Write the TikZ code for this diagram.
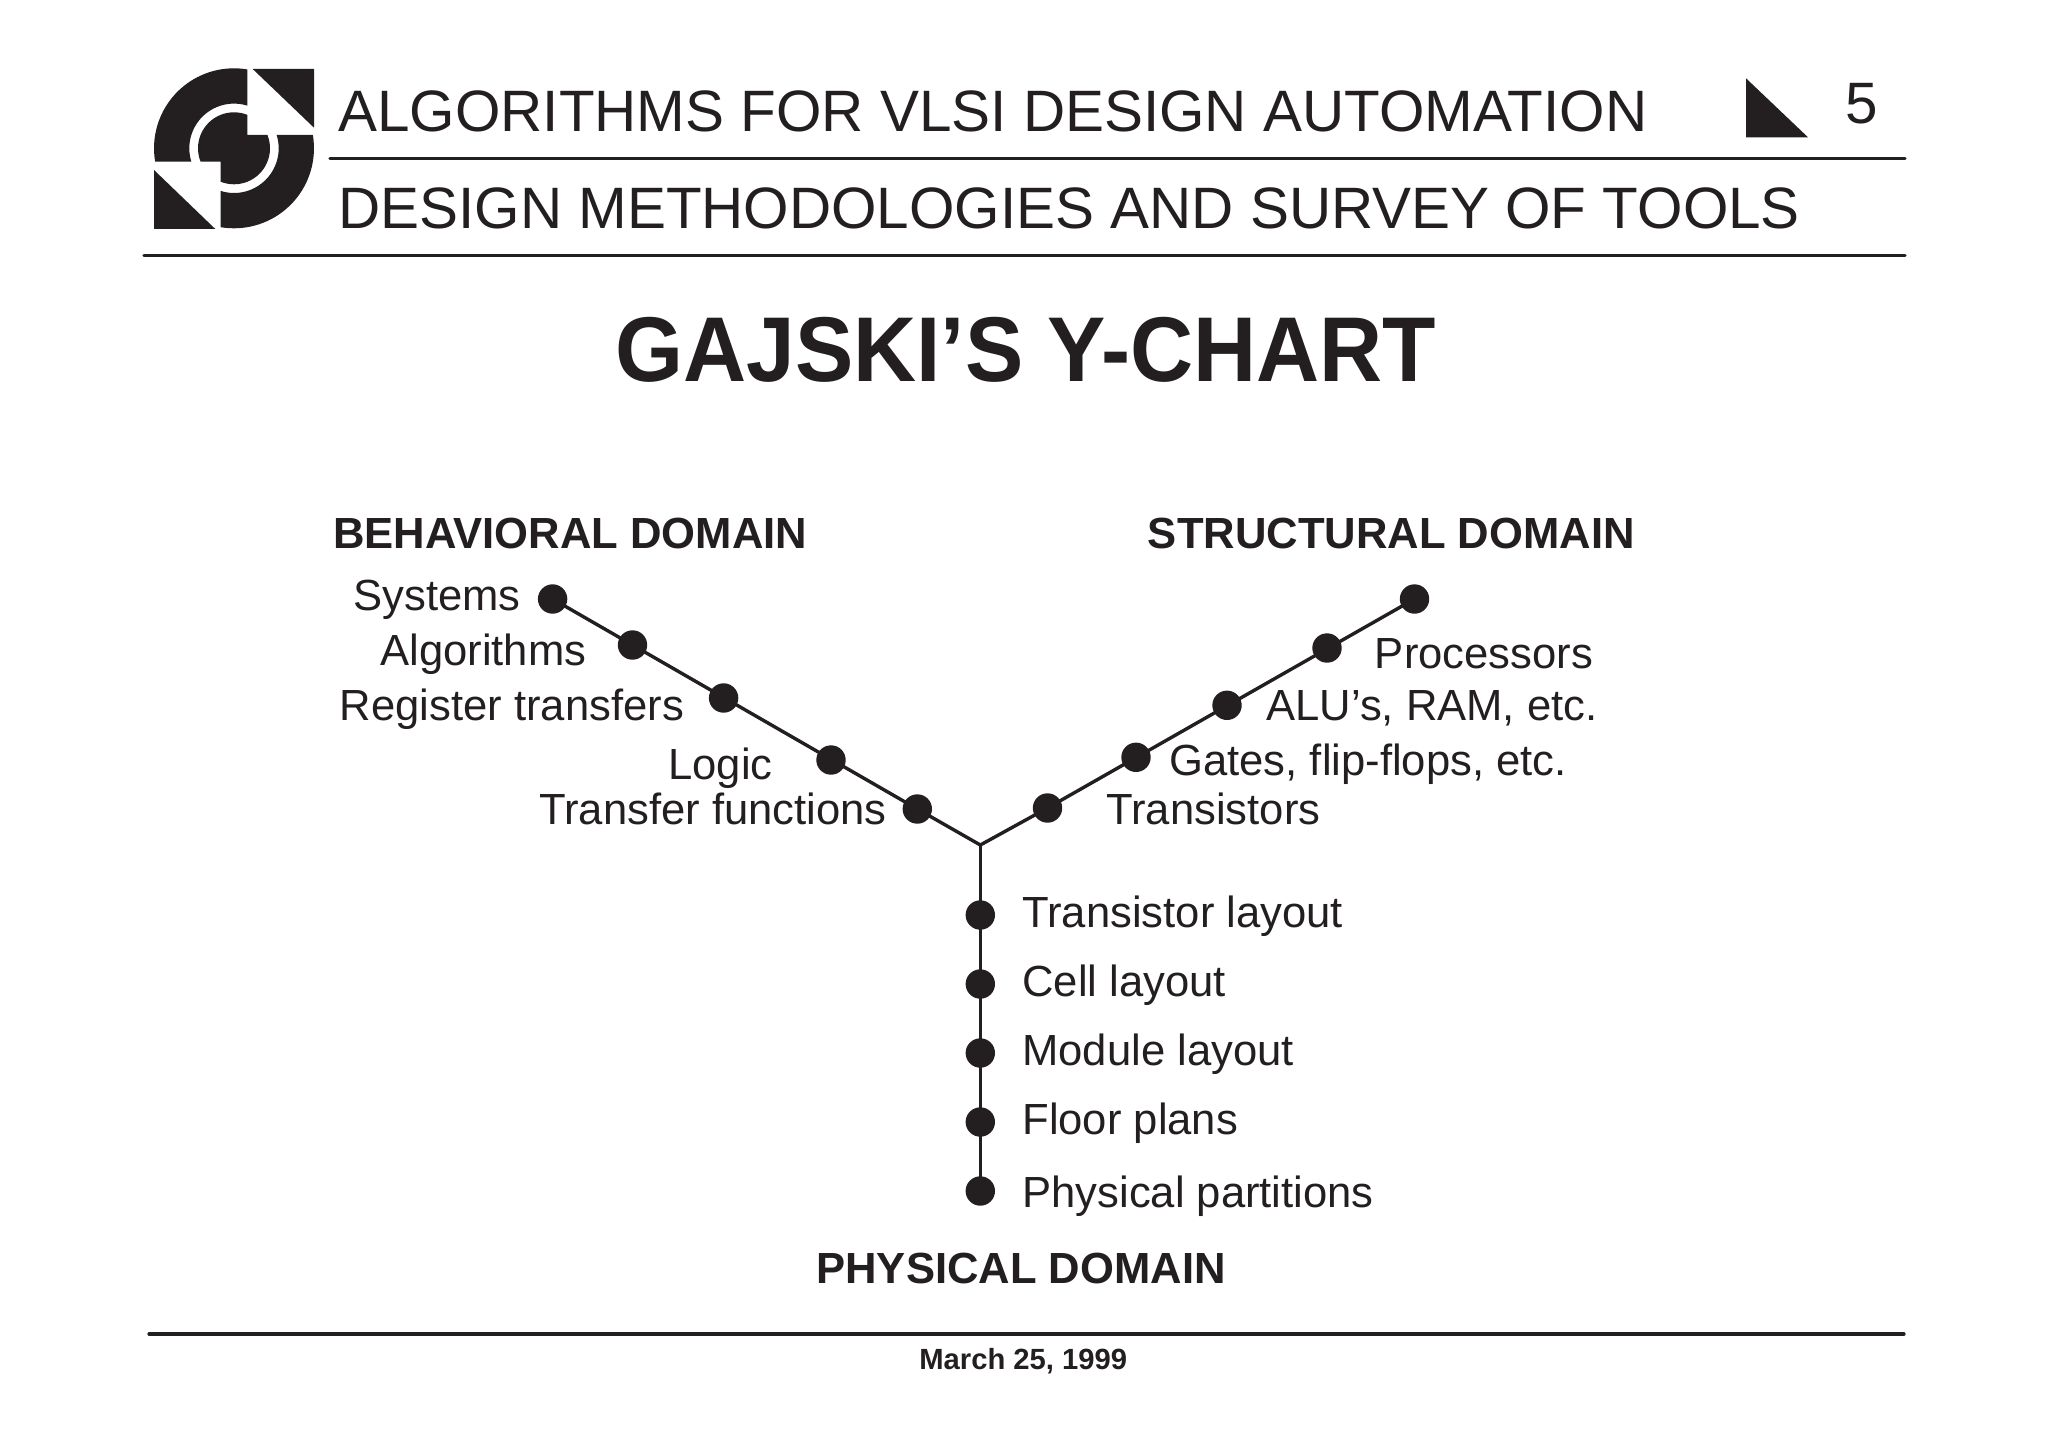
\documentclass[tikz,border=0pt]{standalone}
\usepackage{fontspec}
\setmainfont{Liberation Sans}
\definecolor{ink}{HTML}{231F20}
\tikzset{
  hrule/.style={draw=ink,line width=1.6pt,line cap=round},
  axisline/.style={draw=ink,line width=1.7pt},
  ydot/.style={circle,fill=ink,inner sep=0pt,minimum size=14.7pt},
  headtext/.style={text=ink,font=\fontsize{29.2}{30}\selectfont,anchor=base west,inner sep=0pt},
  bigtitle/.style={text=ink,font=\bfseries\fontsize{46}{48}\selectfont\addfontfeature{FakeStretch=0.95},anchor=base west,inner sep=0pt},
  domainlabel/.style={text=ink,font=\bfseries\fontsize{21.8}{24}\selectfont,anchor=base west,inner sep=0pt},
  itemlabel/.style={text=ink,font=\fontsize{21.8}{24}\selectfont,anchor=base west,inner sep=0pt},
  datelabel/.style={text=ink,font=\bfseries\fontsize{14.6}{16}\selectfont,anchor=base west,inner sep=0pt},
}
\begin{document}
\begin{tikzpicture}[x=0.5pt,y=-0.5pt]
\useasboundingbox (0,0) rectangle (2048,1449);
% logo
\coordinate (C) at (234,148.3);
\fill[ink] ([shift={(170.4:80)}]C) arc[start angle=170.4,end angle=279.6,radius=80]
  -- ([shift={(287.4:44.7)}]C) arc[start angle=287.4,end angle=162.6,radius=44.7] -- cycle;
\fill[ink] ([shift={(350.4:80)}]C) arc[start angle=350.4,end angle=459.6,radius=80]
  -- ([shift={(467.4:44.7)}]C) arc[start angle=467.4,end angle=342.6,radius=44.7] -- cycle;
\fill[ink] ([shift={(-21.8:36)}]C) arc[start angle=-21.8,end angle=111.8,radius=36]
  -- ([shift={(-13.35,13.35)}]C) -- ([shift={(158.2:36)}]C)
  arc[start angle=158.2,end angle=291.8,radius=36]
  -- ([shift={(13.35,-13.35)}]C) -- cycle;
\fill[ink] (252.7,69) -- (314,69) -- (314,127.7) -- cycle;
\fill[ink] (154,170) -- (154,229) -- (215.3,229) -- cycle;
% header
\node[headtext] (h1) at (338,131.5) {ALGORITHMS FOR VLSI DESIGN AUTOMATION};
\node[headtext] (h2) at (338,228.3) {DESIGN METHODOLOGIES AND SURVEY OF TOOLS};
\node[headtext] (pg) at (1845,123.7) {5};
\fill[ink] (1746,78.3) -- (1746,137.3) -- (1808,137.3) -- cycle;
\coordinate (r1a) at (330,158.5); \coordinate (r1b) at (1905,158.5);
\coordinate (r2a) at (144,255.5); \coordinate (r2b) at (1905,255.5);
\coordinate (r3a) at (149,1334); \coordinate (r3b) at (1904,1334);
\draw[hrule] (r1a) -- (r1b);
\draw[hrule] (r2a) -- (r2b);
\draw[hrule] (r3a) -- (r3b);
\node[bigtitle] (title) at (615,381) {GAJSKI’S Y-CHART};
% domains
\node[domainlabel] (dB) at (333,548.2) {BEHAVIORAL DOMAIN};
\node[domainlabel] (dS) at (1147.5,548.2) {STRUCTURAL DOMAIN};
\node[domainlabel] (dP) at (816,1283.2) {PHYSICAL DOMAIN};
% Y
\coordinate (j) at (980.3,845);
\node[ydot] (b1) at (552.6,599) {};
\node[ydot] (b2) at (632.5,645) {};
\node[ydot] (b3) at (723.6,698) {};
\node[ydot] (b4) at (831,760) {};
\node[ydot] (b5) at (917.3,809) {};
\node[ydot] (s1) at (1414.5,599) {};
\node[ydot] (s2) at (1327,648) {};
\node[ydot] (s3) at (1227,705.3) {};
\node[ydot] (s4) at (1136,757.3) {};
\node[ydot] (s5) at (1047.5,808) {};
\node[ydot] (p1) at (980.3,915) {};
\node[ydot] (p2) at (980.3,984) {};
\node[ydot] (p3) at (980.3,1053) {};
\node[ydot] (p4) at (980.3,1122) {};
\node[ydot] (p5) at (980.3,1191) {};
\draw[axisline] (b1.center) -- (b5.center) -- (j);
\draw[axisline] (s1.center) -- (s5.center) -- (j);
\draw[axisline] (j) -- (p5.center);
% items
\node[itemlabel] (t1) at (353,610) {Systems};
\node[itemlabel] (t2) at (380,665.5) {Algorithms};
\node[itemlabel] (t3) at (339.5,720.5) {Register transfers};
\node[itemlabel] (t4) at (668,779.8) {Logic};
\node[itemlabel] (t5) at (539,824.3) {Transfer functions};
\node[itemlabel] (t6) at (1374.5,668.8) {Processors};
\node[itemlabel] (t7) at (1266,720) {ALU’s, RAM, etc.};
\node[itemlabel] (t8) at (1169,775.5) {Gates, flip-flops, etc.};
\node[itemlabel] (t9) at (1106,824) {Transistors};
\node[itemlabel] (t10) at (1022,927.2) {Transistor layout};
\node[itemlabel] (t11) at (1022,996) {Cell layout};
\node[itemlabel] (t12) at (1022,1065.5) {Module layout};
\node[itemlabel] (t13) at (1022,1134.5) {Floor plans};
\node[itemlabel] (t14) at (1022,1207.7) {Physical partitions};
\node[datelabel] (date) at (919,1369.7) {March 25, 1999};
\end{tikzpicture}
\end{document}
